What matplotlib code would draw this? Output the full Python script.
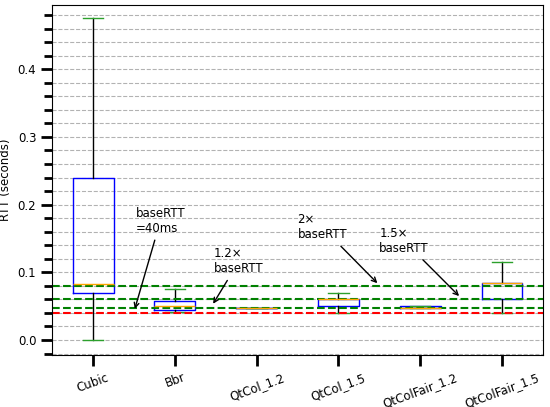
import matplotlib
matplotlib.use("Agg")
import matplotlib.pyplot as plt
from matplotlib.ticker import MultipleLocator

plt.rcParams["font.size"] = 8.5

labels = ["Cubic", "Bbr", "QtCol_1.2", "QtCol_1.5", "QtColFair_1.2", "QtColFair_1.5"]
# whislo, q1, med, q3, whishi
whislo = [0.0, 0.042, 0.047, 0.040, 0.047, 0.040]
q1 = [0.070, 0.045, 0.047, 0.050, 0.048, 0.060]
med = [0.082, 0.050, 0.048, 0.060, 0.048, 0.084]
q3 = [0.240, 0.058, 0.048, 0.060, 0.050, 0.084]
whishi = [0.475, 0.075, 0.048, 0.070, 0.050, 0.115]

base_rtt = 0.04
green_lines = [0.048, 0.06, 0.08]

stats = [dict(label=l, whislo=a, q1=b, med=c, q3=d, whishi=e)
         for l, a, b, c, d, e in zip(labels, whislo, q1, med, q3, whishi)]

fig = plt.figure(figsize=(5.5, 4.07), dpi=100)
ax = fig.add_axes([0.095, 0.128, 0.892, 0.86])
ax.bxp(stats, showfliers=False, widths=0.5,
       boxprops=dict(color="blue"), medianprops=dict(color="orange"),
       whiskerprops=dict(color="black"), capprops=dict(color="tab:green"))

ax.axhline(base_rtt, color="red", linestyle="--", lw=1.5)
for y in green_lines:
    ax.axhline(y, color="green", linestyle="--", lw=1.5)

ax.set_ylim(-0.022, 0.495)
ax.yaxis.set_major_locator(MultipleLocator(0.1))
ax.yaxis.set_minor_locator(MultipleLocator(0.02))
ax.tick_params(axis="y", which="major", length=8, width=2)
ax.tick_params(axis="y", which="minor", length=6, width=2)
ax.tick_params(axis="x", length=8, width=2)
ax.grid(True, which="both", axis="y", linestyle="--", color="gray", alpha=0.6)
ax.set_ylabel("RTT (seconds)")
plt.setp(ax.get_xticklabels(), rotation=20)

arrow = dict(arrowstyle="->", color="black")
ax.annotate("baseRTT\n=40ms", xy=(1.5, 0.042), xytext=(1.52, 0.16), arrowprops=arrow)
ax.annotate("1.2×\nbaseRTT", xy=(2.45, 0.05), xytext=(2.48, 0.1), arrowprops=arrow)
ax.annotate("2×\nbaseRTT", xy=(4.5, 0.081), xytext=(3.5, 0.15), arrowprops=arrow)
ax.annotate("1.5×\nbaseRTT", xy=(5.5, 0.062), xytext=(4.5, 0.13), arrowprops=arrow)

fig.savefig("out.png")
